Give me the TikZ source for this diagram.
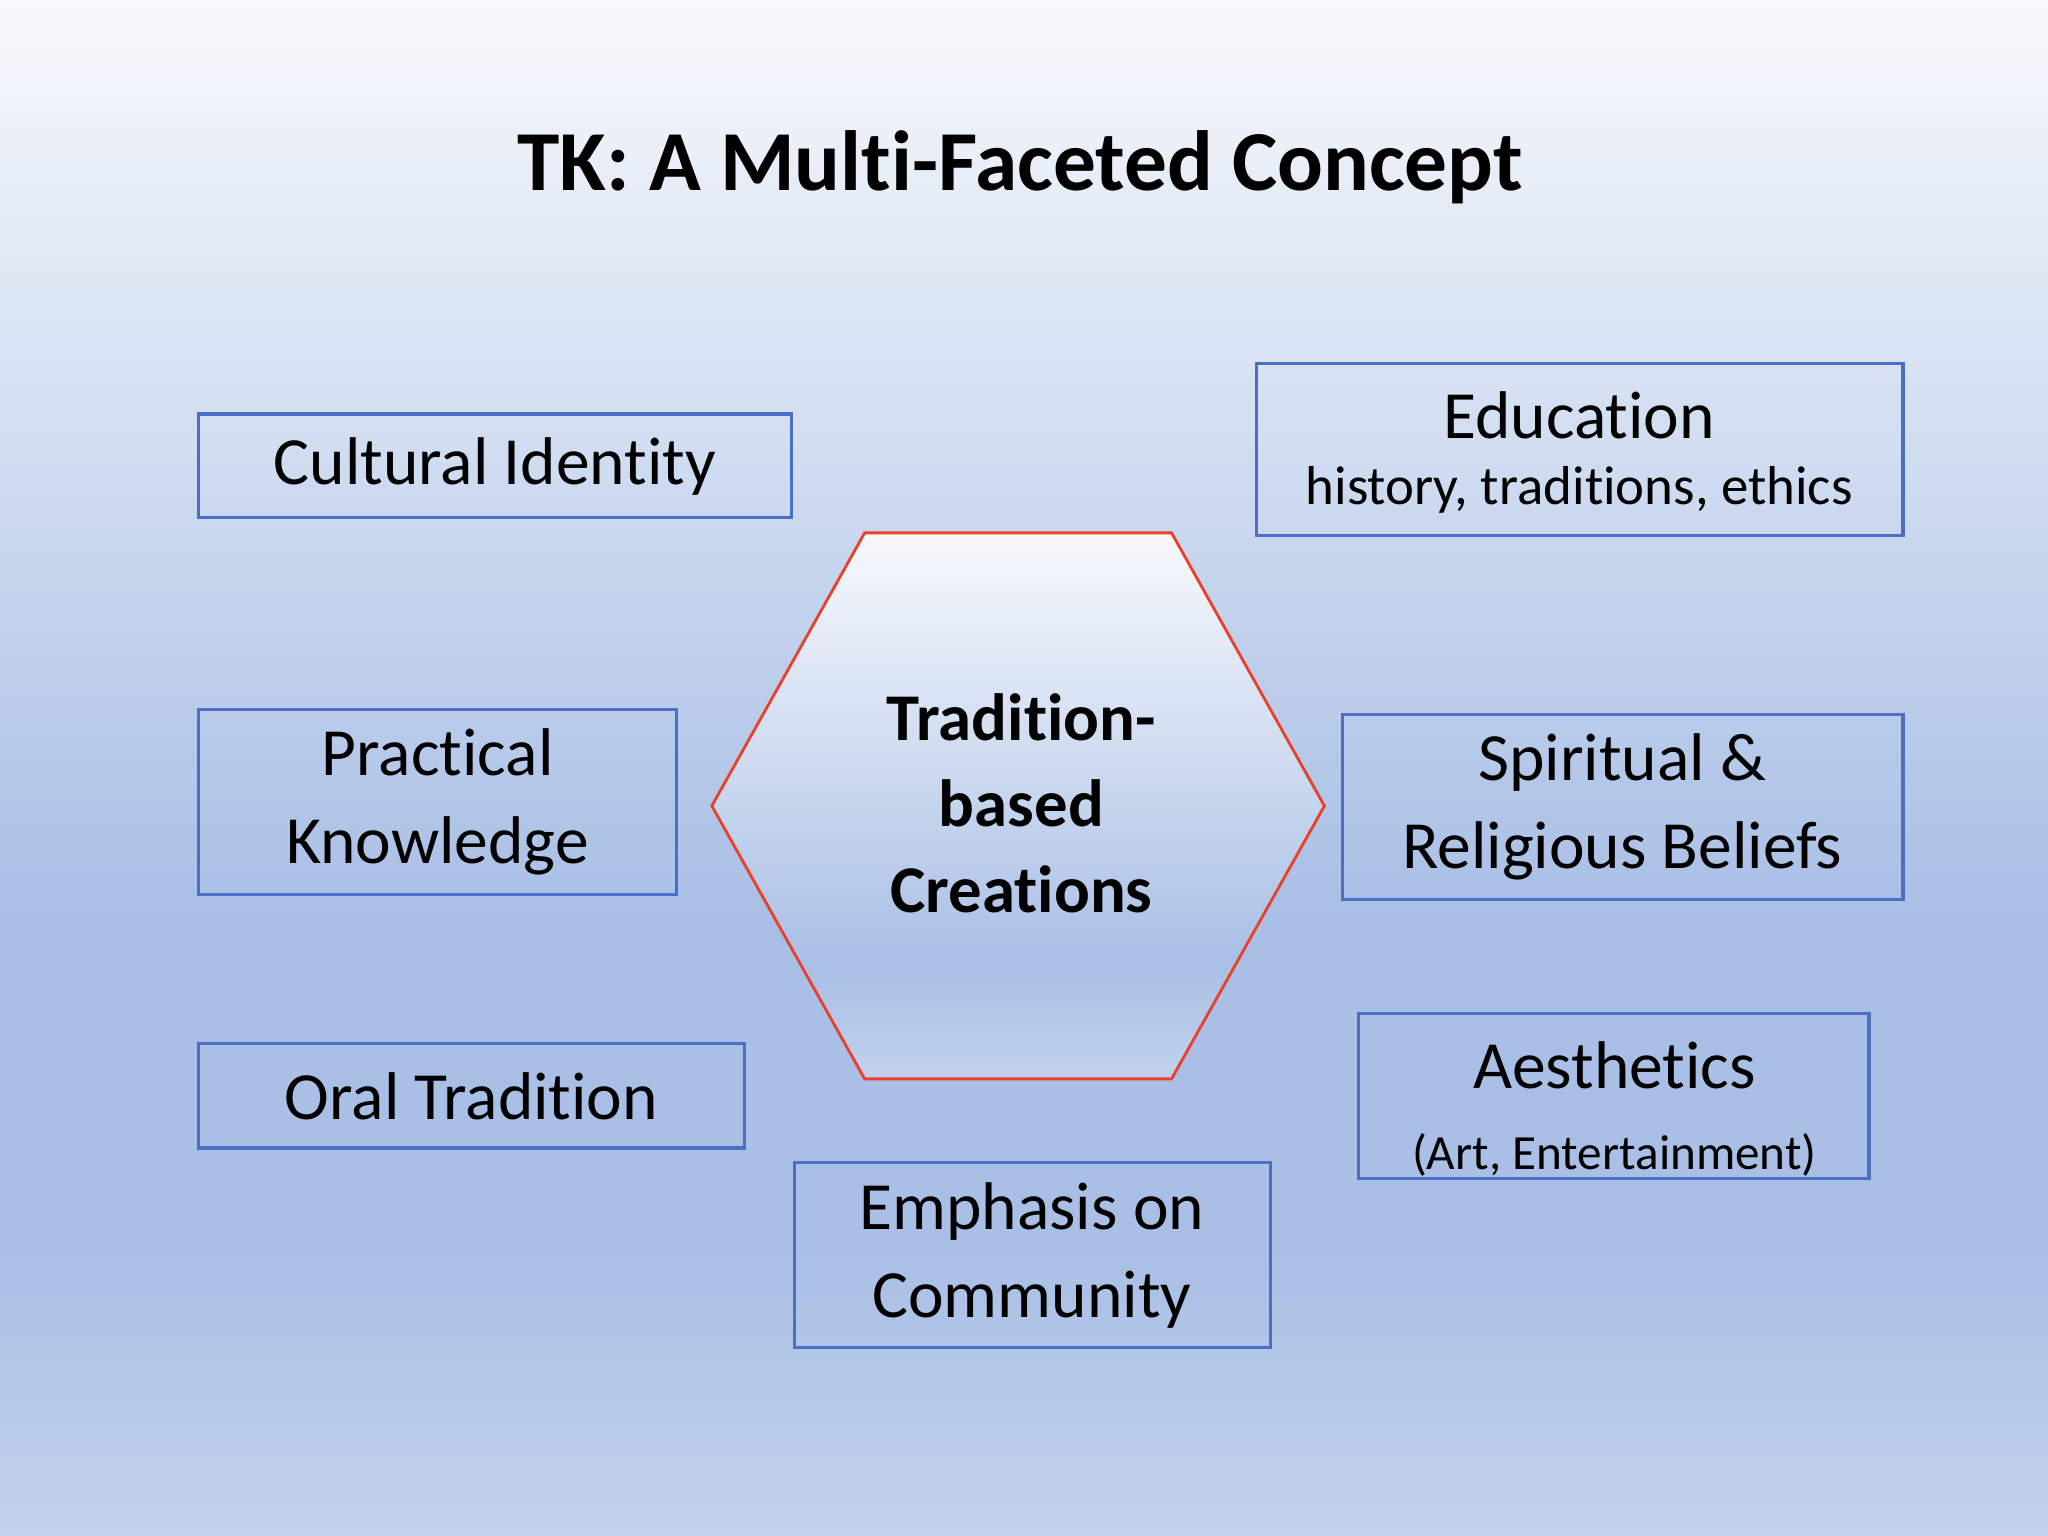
\documentclass[tikz,border=0pt]{standalone}
\usepackage{fontspec}
\setmainfont[Ligatures={NoCommon}]{Carlito}
\newcommand\tk{t\kern0pt\relax}
\definecolor{bgblue}{HTML}{A9BFE5}
\definecolor{bgtop}{HTML}{F7F9FC}
\definecolor{bgbot}{HTML}{C2D2EC}
\definecolor{boxline}{HTML}{4A6FC4}
\definecolor{hexred}{HTML}{E8402A}
\tikzset{
  big/.style={font=\fontsize{19.2}{25}\selectfont, align=center},
}
\begin{document}
\begin{tikzpicture}[x=0.0130612cm, y=-0.0130612cm]
\useasboundingbox (0,0) rectangle (1568,1176);
\shade[top color=bgtop, bottom color=bgblue] (0,0) rectangle (1568,700);
\fill[bgblue] (0,699) rectangle (1568,961);
\shade[top color=bgblue, bottom color=bgbot] (0,960) rectangle (1568,1176);
\node (title) at (781,128) {\fontsize{24.3}{29}\selectfont\bfseries TK: A Mul\tk i-Faceted Concept};
% hexagon
\begin{scope}
\clip (545,617) -- (662,408) -- (897,408) -- (1014,617) -- (897,826) -- (662,826) -- cycle;
\shade[top color=bgtop, bottom color=bgblue] (540,406) rectangle (1020,741);
\shade[top color=bgblue, bottom color=bgblue!70!white] (540,740) rectangle (1020,830);
\end{scope}
\draw[hexred, line width=0.8pt] (545,617) -- (662,408) -- (897,408) -- (1014,617) -- (897,826) -- (662,826) -- cycle;
\node[align=center, font=\fontsize{19}{24.5}\selectfont\bfseries] (center) at (782,615) {Tradi\tk ion-\\based\\Creations};
% boxes
\draw[boxline, line width=0.9pt] (152,317) rectangle (606,396);
\node[big] (ci) at (379,357) {Cultural Iden\tk ity};
\draw[boxline, line width=0.9pt] (962,278) rectangle (1457,410);
\node[big] (ed) at (1209,318) {Educa\tk ion};
\node[font=\fontsize{15.6}{18}\selectfont] (eds) at (1209,375) {history, tradi\tk ions, ethics};
\draw[boxline, line width=0.9pt] (152,543) rectangle (518,685);
\node[big] (pk) at (335,614) {Practical\\Knowledge};
\draw[boxline, line width=0.9pt] (1028,547) rectangle (1457,689);
\node[big] (sr) at (1242,618) {Spiritual \&\\Religious Beliefs};
\draw[boxline, line width=0.9pt] (152,799) rectangle (570,879);
\node[big] (ot) at (361,839) {Oral Tradi\tk ion};
\draw[boxline, line width=0.9pt] (1040,776) rectangle (1431,902);
\node[big] (ae) at (1236,816) {Aesthe\tk ics};
\node[font=\fontsize{14}{16}\selectfont] (aes) at (1236,884) {(Art, Entertainment)};
\draw[boxline, line width=0.9pt] (608,890) rectangle (973,1032);
\node[big] (ec) at (790,961) {Emphasis on\\Community};
\end{tikzpicture}
\end{document}
